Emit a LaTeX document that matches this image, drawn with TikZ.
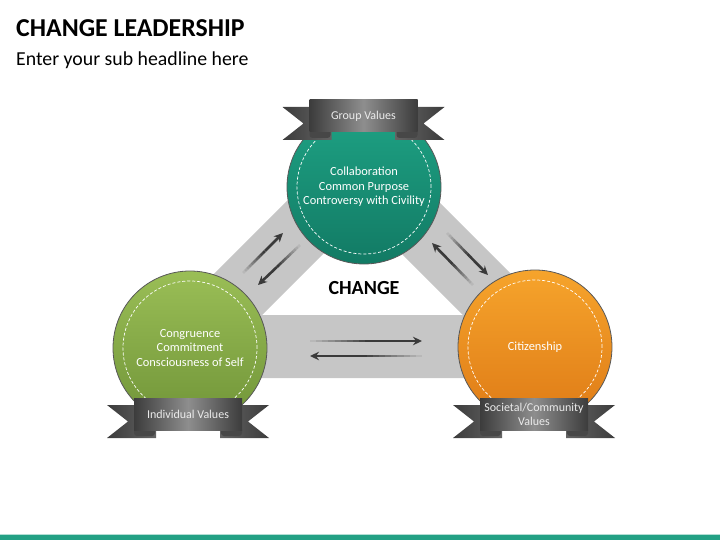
\documentclass[tikz,border=0pt]{standalone}
\usepackage{fontspec}
\setmainfont{Carlito}
\usepackage{tikz}
\usetikzlibrary{arrows.meta, positioning, calc}
\definecolor{bandgray}{RGB}{198,198,198}
\definecolor{arrowgray}{RGB}{58,58,58}
\definecolor{circleedge}{RGB}{88,88,88}
\definecolor{tealtop}{RGB}{30,162,132}
\definecolor{tealbot}{RGB}{18,122,100}
\definecolor{greentop}{RGB}{154,190,86}
\definecolor{greenbot}{RGB}{112,148,56}
\definecolor{orangetop}{RGB}{246,164,44}
\definecolor{orangebot}{RGB}{222,122,22}
\definecolor{ribbondark}{RGB}{60,60,60}
\definecolor{ribbonlight}{RGB}{142,142,142}
\definecolor{footteal}{RGB}{35,160,132}
% arrow whose tail fades out
\newcommand{\fadearrow}[2]{%
  \foreach \k in {0,...,9}{%
    \pgfmathsetmacro{\op}{(\k+1)/10}%
    \draw[shaft, draw opacity=\op] ($(#1)!{\k*0.055}!(#2)$) -- ($(#1)!{(\k+1)*0.055}!(#2)$);
  }%
  \draw[shaft, -{Stealth[length=9pt, width=8.5pt]}] ($(#1)!0.55!(#2)$) -- (#2);
}
% banner: name, centre x, top y, label
\newcommand{\ribbon}[4]{%
  \draw[tail, left color=ribbondark, right color=ribbonlight!70!black]
    (#2-81,#3+7) -- (#2-60,#3+23.5) -- (#2-81,#3+40) -- (#2-32,#3+40) -- (#2-32,#3+7) -- cycle;
  \draw[tail, left color=ribbonlight!70!black, right color=ribbondark]
    (#2+81,#3+7) -- (#2+60,#3+23.5) -- (#2+81,#3+40) -- (#2+32,#3+40) -- (#2+32,#3+7) -- cycle;
  \fill[fold] (#2-54,#3+29) rectangle (#2-33,#3+38);
  \fill[fold] (#2+33,#3+29) rectangle (#2+54,#3+38);
  \node[panel] (#1) at (#2,#3+16) {#4};
}

\begin{document}
\begin{tikzpicture}[
  x=1pt, y=-1pt,
  band/.style={draw=bandgray, line width=63pt, line join=round},
  shaft/.style={draw=arrowgray, line width=2.6pt},
  valuecircle/.style={circle, draw=circleedge, line width=0.8pt, minimum size=154pt,
                      inner sep=0pt, align=center, text=white,
                      font=\fontsize{12.4}{14.5}\selectfont},
  innerdash/.style={draw=white, dashed, dash pattern=on 3pt off 2pt, line width=0.7pt},
  tail/.style={draw=none},
  fold/.style={fill=black!72, rounded corners=3pt},
  panel/.style={rectangle, minimum width=108pt, minimum height=32pt, inner sep=2pt,
                left color=ribbondark, right color=ribbondark, middle color=ribbonlight,
                align=center, text=white!92!black, font=\fontsize{12}{14}\selectfont}
]
\useasboundingbox (0,0) rectangle (720,540);

\node[anchor=base west, inner sep=0pt, font=\bfseries\fontsize{25.8}{30}\selectfont] (title)
  at (16,37) {CHANGE LEADERSHIP};
\node[anchor=base west, inner sep=0pt, font=\fontsize{19.8}{23}\selectfont] (subtitle)
  at (16,66) {Enter your sub headline here};

% gray band joining the three values
\coordinate (bl) at (186,346.5);
\coordinate (br) at (539,346.5);
\coordinate (ap) at (362.5,170);
\draw[band] (bl) -- (ap) -- (br) -- cycle;

\coordinate (a1s) at (310,341);  \coordinate (a1e) at (422,341);
\coordinate (a2s) at (422,356);  \coordinate (a2e) at (310,356);
\coordinate (a3s) at (243,273);  \coordinate (a3e) at (283,233);
\coordinate (a4s) at (300,245);  \coordinate (a4e) at (258,285);
\coordinate (a5s) at (473,285);  \coordinate (a5e) at (432,243);
\coordinate (a6s) at (447,233);  \coordinate (a6e) at (488,275);
\fadearrow{a1s}{a1e}
\fadearrow{a2s}{a2e}
\fadearrow{a3s}{a3e}
\fadearrow{a4s}{a4e}
\fadearrow{a5s}{a5e}
\fadearrow{a6s}{a6e}

\node[valuecircle, top color=tealtop, bottom color=tealbot] (grp) at (364,187)
  {Collaboration\\Common Purpose\\Controversy with Civility};
\node[valuecircle, top color=greentop, bottom color=greenbot] (ind) at (190,348)
  {Congruence\\Commitment\\Consciousness of Self};
\node[valuecircle, top color=orangetop, bottom color=orangebot] (soc) at (535,347)
  {Citizenship};
\draw[innerdash] (grp.center) circle[radius=67pt];
\draw[innerdash] (ind.center) circle[radius=67pt];
\draw[innerdash] (soc.center) circle[radius=67pt];

\ribbon{grplabel}{363.5}{100}{Group Values}
\ribbon{indlabel}{188}{398}{Individual Values}
\ribbon{soclabel}{534}{398}{Societal/Community\\Values}

\node[font=\bfseries\fontsize{20}{24}\selectfont] (change) at (364,288) {CHANGE};

\fill[footteal] (0,535) rectangle (720,540);
\draw[footteal!35, line width=0.8pt] (0,534.4) -- (720,534.4);
\end{tikzpicture}
\end{document}
